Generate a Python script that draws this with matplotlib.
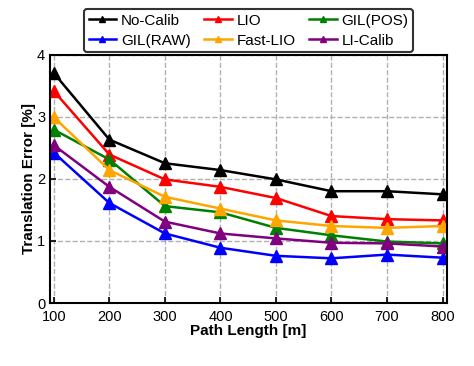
import matplotlib
matplotlib.use("Agg")
import matplotlib.pyplot as plt

plt.rcParams['font.family'] = ['Liberation Sans', 'DejaVu Sans']

# Data
path_length = [100, 200, 300, 400, 500, 600, 700, 800]
no_calib = [3.70, 2.63, 2.25, 2.14, 1.99, 1.80, 1.80, 1.75]
lio = [3.41, 2.39, 1.99, 1.87, 1.69, 1.40, 1.35, 1.33]
gil_pos = [2.79, 2.31, 1.56, 1.46, 1.21, 1.09, 0.99, 0.96]
gil_raw = [2.42, 1.61, 1.12, 0.89, 0.76, 0.72, 0.78, 0.73]
fast_lio = [2.99, 2.14, 1.71, 1.52, 1.33, 1.24, 1.21, 1.24]
li_calib = [2.54, 1.87, 1.31, 1.12, 1.04, 0.97, 0.96, 0.91]

series = [
    ("No-Calib", no_calib, "black"),
    ("LIO", lio, "#ff0000"),
    ("GIL(POS)", gil_pos, "#008000"),
    ("GIL(RAW)", gil_raw, "#0000ff"),
    ("Fast-LIO", fast_lio, "#ffa500"),
    ("LI-Calib", li_calib, "#800080"),
]

fig = plt.figure(figsize=(4.74, 3.66), dpi=100)
ax = fig.add_axes([0.1055, 0.172, 0.8375, 0.679])

lines = {}
for name, vals, col in series:
    ln, = ax.plot(path_length, vals, color=col, marker="^", markersize=8,
                  linewidth=1.8, label=name)
    lines[name] = ln

ax.set_xlim(93, 808)
ax.set_ylim(0, 4)
ax.set_xticks(path_length)
ax.set_yticks([0, 1, 2, 3, 4])
ax.tick_params(direction="in", labelsize=10.5, length=4, width=1.2)
ax.tick_params(axis="x", pad=5)
ax.grid(True, linestyle="--", color="#b0b0b0", linewidth=1)
for s in ax.spines.values():
    s.set_linewidth(1.5)

ax.set_xlabel("Path Length [m]", fontsize=11, fontweight="bold", labelpad=0)
ax.set_ylabel("Translation Error [%]", fontsize=11, fontweight="bold", labelpad=1)

# legend is filled row by row in the reference
order = ["No-Calib", "GIL(RAW)", "LIO", "Fast-LIO", "GIL(POS)", "LI-Calib"]
leg = ax.legend([lines[n] for n in order], order,
                loc="lower center", bbox_to_anchor=(0.5, 1.0), ncol=3,
                fontsize=11, frameon=True, fancybox=True, edgecolor="black",
                markerscale=0.6, handlelength=1.8, handletextpad=0.3,
                columnspacing=0.9, borderpad=0.3, labelspacing=0.4,
                borderaxespad=0.15)
leg.get_frame().set_linewidth(1.5)

fig.savefig("out.png", dpi=100)
